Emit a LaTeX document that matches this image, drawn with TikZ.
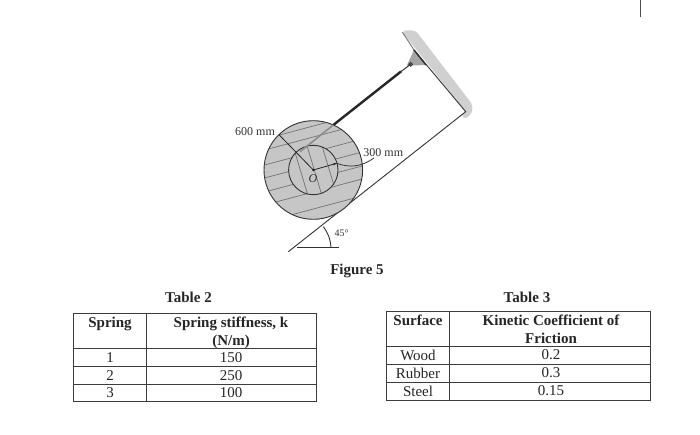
\documentclass[tikz,border=0pt]{standalone}
\usepackage{fontspec}
\setmainfont{Liberation Serif}
\usepackage{tikz}
\usetikzlibrary{
  positioning,
  arrows.meta
}
\definecolor{diskgray}{RGB}{198,198,198}
\definecolor{wallgray}{RGB}{208,208,208}
\definecolor{rulegray}{RGB}{60,60,60}
\tikzset{
  celltext/.style={inner sep=0pt,font=\fontsize{15}{17}\selectfont,text=black!85},
  headtext/.style={celltext,font=\fontsize{15}{17}\selectfont\bfseries},
  figlabel/.style={inner sep=0pt,font=\fontsize{12}{14}\selectfont,text=black!80},
  tablerule/.style={draw=rulegray,line width=1pt},
  outline/.style={draw=black!80,line width=0.9pt},
  hatchline/.style={draw=black!55,line width=0.7pt}
}
\begin{document}
\begin{tikzpicture}[x=1pt,y=-1pt]
		\useasboundingbox (0,0) rectangle (700,435);
		\fill [white] (0,0) rectangle (700,435);
		\draw [black!70,line width=0.8pt] (640,0) -- (640,17);
		% incline and wall
		\coordinate (O) at (313.3,170);
		\coordinate (foot) at (288.3,251.7);
		\coordinate (corner) at (465.7,111.7);
		\coordinate (top) at (402.3,32);
		\coordinate (anchor) at (410.7,64.3);
		\fill [wallgray,rounded corners=3pt] (top) -- (406,30) -- (416,31) -- (472,104) -- (472.5,112) -- (466,119) -- (461,116) -- (corner) -- cycle;
		\draw [outline] (foot) -- (corner) -- (414,50);
		\draw [black!55,line width=0.9pt] (414,50) -- (top);
		\draw [outline] (296.7,247.7) -- (339,247.7);
		\draw [outline] (323.3,226.7) to [bend left=16] (331,247.7);
		\node [figlabel,font=\fontsize{10}{12}\selectfont] (angle) at (341.5,233.5) {45\textdegree};
		% bracket on the wall
		\fill [black!35] (414,50) -- (426,65) -- (406.7,65.7) -- cycle;
		\draw [black!80,line width=1.5pt] (414,50) -- (426,65);
		% disk
		\fill [diskgray] (O) circle (49.3);
		\begin{scope}
			\clip (O) circle (49.3);
			\foreach \y in {-44,-33,-18,-5,9,22,39}{
				\draw [hatchline] ([shift={(-60,\y+16)}]O) -- ([shift={(60,\y-16)}]O);
			}
		\end{scope}
		\fill [diskgray] (O) circle (24.7);
		\begin{scope}
			\clip (O) circle (24.7);
			\foreach \x in {-13,1,16}{
				\draw [hatchline] ([shift={(\x-9,-30)}]O) -- ([shift={(\x+9,30)}]O);
			}
		\end{scope}
		\draw [outline] (O) circle (49.3);
		\draw [outline] (O) circle (24.7);
		% cable
		\coordinate (rimcable) at (333.3,125);
		\coordinate (eye) at (401,71.5);
		\draw [black!85,line width=2.4pt] (rimcable) -- (eye);
		\draw [black!80,line width=1pt] (eye) -- (anchor);
		\draw [black!75,line width=1.1pt] (anchor) circle (1.8);
		\draw [black!45,line width=1.6pt] (rimcable) -- (300,151.7);
		% radii
		\coordinate (rim) at (279.3,135);
		\coordinate (hub) at (336.7,163.3);
		\fill [black] (O) circle (1.3);
		\draw [black!85,line width=0.8pt] (O) -- (rim);
		\draw [-{Stealth[length=3.5pt,width=2.6pt]},black!85,line width=0.8pt] (O) -- (hub);
		\node [figlabel] (outerlabel) at (255,131.7) {600 mm};
		\node [figlabel] (innerlabel) at (383.3,152.3) {300 mm};
		\draw [black!85,line width=0.7pt] (hub) to [out=-20,in=215] (374,158);
		\node [figlabel,font=\fontsize{12}{14}\selectfont\itshape] (centre) at (313,179) {O};
		\node [headtext] (figtitle) at (357,271) {Figure 5};
		% table 2
		\node [headtext] (titleA) at (188.5,297) {Table 2};
		\draw [tablerule] (73.3,313.3) rectangle (316,401.7);
		\draw [tablerule] (146.7,313.3) -- (146.7,401.7);
		\foreach \y in {348.3,366.7,384}{
			\draw [tablerule] (73.3,\y) -- (316,\y);
		}
		\node [headtext] (springhead) at (110,324) {Spring};
		\node [headtext] (stiffhead) at (231,324) {Spring stiffness, k};
		\node [headtext] (stiffunit) at (231,341.5) {(N/m)};
		\foreach \n/\k/\y in {1/150/357.5,2/250/375.5,3/100/393}{
			\node [celltext] (spring\n) at (110,\y) {\n};
			\node [celltext] (stiff\n) at (231,\y) {\k};
		}
		% table 3
		\node [headtext] (titleB) at (527,297) {Table 3};
		\draw [tablerule] (386.7,311.7) rectangle (650.7,400);
		\draw [tablerule] (449.3,311.7) -- (449.3,400);
		\foreach \y in {346.7,364.3,382}{
			\draw [tablerule] (386.7,\y) -- (650.7,\y);
		}
		\node [headtext] (surfhead) at (418,320.5) {Surface};
		\node [headtext] (kinhead) at (551,320.5) {Kinetic Coefficient of};
		\node [headtext] (kinhead2) at (551,338) {Friction};
		\foreach \s/\c/\y in {Wood/0.2/355,Rubber/0.3/373,Steel/0.15/391}{
			\node [celltext] (surf\s) at (418,\y) {\s};
			\node [celltext] (coef\s) at (551,\y) {\c};
		}
	\end{tikzpicture}
\end{document}
